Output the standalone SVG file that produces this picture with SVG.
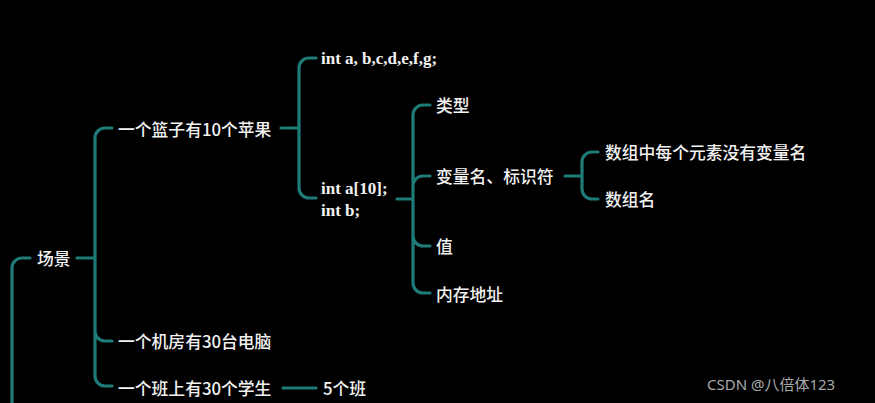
<svg xmlns="http://www.w3.org/2000/svg" width="875" height="403" viewBox="0 0 875 403">
<style>
.c{fill:none;stroke:#1e7b77;stroke-width:3.2;stroke-linecap:round}
text{fill:#f2f2f2;font-family:"Liberation Serif","Noto Sans CJK SC",serif;font-size:17px;font-weight:bold;dominant-baseline:central}
.z{font-family:"Noto Sans CJK SC",sans-serif;font-weight:500;font-size:16.8px}
</style>
<rect width="875" height="403" fill="#000"/>
<g id="connectors">
<path class="c" d="M12 403V268a10 10 0 0 1 10-10h8"/>
<path class="c" d="M77 258H93"/>
<path class="c" d="M112 128h-7a10 10 0 0 0-10 10V376a10 10 0 0 0 10 10h7M95 331a10 10 0 0 0 10 10h7"/>
<path class="c" d="M281 128H297"/>
<path class="c" d="M316 58h-7a10 10 0 0 0-10 10V188a10 10 0 0 0 10 10h7"/>
<path class="c" d="M397 199H411"/>
<path class="c" d="M430 105h-7a10 10 0 0 0-10 10V283a10 10 0 0 0 10 10h7M413 186a10 10 0 0 1 10-10h7M413 236a10 10 0 0 0 10 10h7"/>
<path class="c" d="M565 176H580"/>
<path class="c" d="M598 152h-6a10 10 0 0 0-10 10V189a10 10 0 0 0 10 10h6"/>
<path class="c" d="M283 388H316"/>
</g>
<g id="n-root"><text class="z" x="37" y="258">场景</text></g>
<g id="n1"><text class="z" x="118" y="129">一个篮子有10个苹果</text></g>
<g id="n2"><text class="z" x="118" y="341">一个机房有30台电脑</text></g>
<g id="n3"><text class="z" x="118" y="388">一个班上有30个学生</text></g>
<g id="n4"><text class="z" x="323" y="388">5个班</text></g>
<g id="n5"><text x="321" y="58">int a, b,c,d,e,f,g;</text></g>
<g id="n6"><text x="321" y="188">int a[10];</text><text x="321" y="210">int b;</text></g>
<g id="n7"><text class="z" x="436" y="105">类型</text></g>
<g id="n8"><text class="z" x="436" y="176">变量名、标识符</text></g>
<g id="n9"><text class="z" x="436" y="246">值</text></g>
<g id="n10"><text class="z" x="436" y="294">内存地址</text></g>
<g id="n11"><text class="z" x="605" y="152">数组中每个元素没有变量名</text></g>
<g id="n12"><text class="z" x="605" y="199">数组名</text></g>
<text x="707" y="384" style="font-family:'Noto Sans','Noto Sans CJK SC',sans-serif;font-weight:normal;font-size:15px;fill:#a8a8a8">CSDN @八倍体123</text>
</svg>
